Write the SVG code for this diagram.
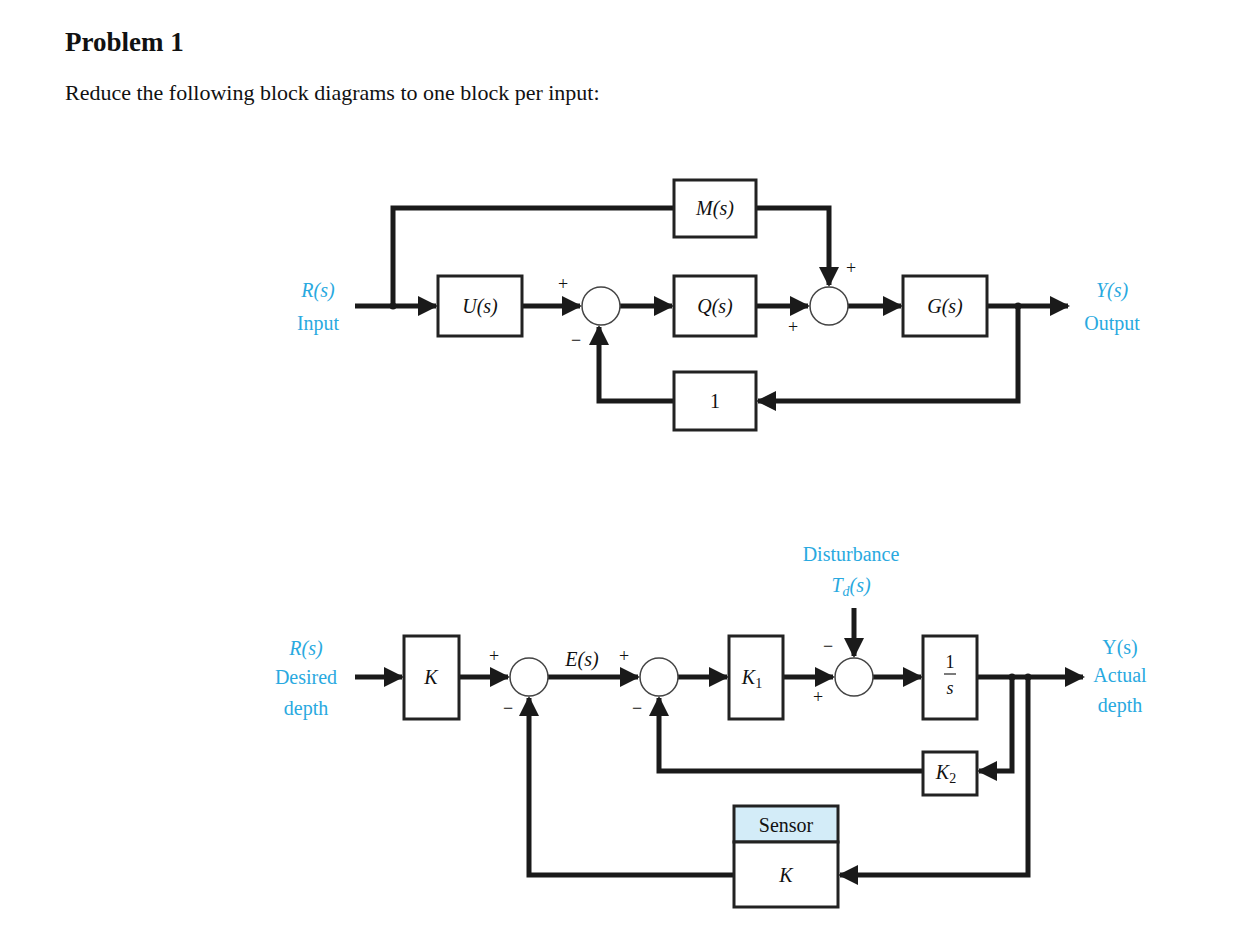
<svg xmlns="http://www.w3.org/2000/svg" width="1237" height="947" viewBox="0 0 1237 947">
<style>
text{font-family:"Liberation Serif","DejaVu Serif",serif;fill:#111}
.t{font-size:20px;text-anchor:middle}
.b{fill:#29a9e0;font-size:20px;text-anchor:middle}
.s{font-size:18px;text-anchor:middle}
.blk{fill:#fff;stroke:#222;stroke-width:3}
.sum{fill:#fff;stroke:#444;stroke-width:1.5}
.w{fill:none;stroke:#1a1a1a;stroke-width:5}
</style>
<defs>
<marker id="a" viewBox="0 0 10 10" refX="9" refY="5" markerWidth="4" markerHeight="4" orient="auto" markerUnits="strokeWidth"><path d="M0,0L10,5L0,10z" fill="#1a1a1a"/></marker>
</defs>
<rect width="1237" height="947" fill="#fff"/>
<text x="65" y="51" style="font-size:27px;font-weight:bold">Problem 1</text>
<text x="65" y="100" style="font-size:22px">Reduce the following block diagrams to one block per input:</text>

<g id="connectors">
<!-- top -->
<path class="w" d="M355,306H436" marker-end="url(#a)"/>
<path class="w" d="M393,306V208H674"/>
<path class="w" d="M756,208H829V285" marker-end="url(#a)"/>
<path class="w" d="M522,306H580" marker-end="url(#a)"/>
<path class="w" d="M620,306H672" marker-end="url(#a)"/>
<path class="w" d="M756,306H808" marker-end="url(#a)"/>
<path class="w" d="M848,306H901" marker-end="url(#a)"/>
<path class="w" d="M987,306H1068" marker-end="url(#a)"/>
<path class="w" d="M1018,306V401H758" marker-end="url(#a)"/>
<path class="w" d="M674,401H599V327" marker-end="url(#a)"/>
<circle cx="393" cy="306" r="3.5" fill="#1a1a1a"/>
<circle cx="1018" cy="306" r="3.5" fill="#1a1a1a"/>
<!-- bottom -->
<path class="w" d="M355,677H402" marker-end="url(#a)"/>
<path class="w" d="M459,677H508" marker-end="url(#a)"/>
<path class="w" d="M548,677H638" marker-end="url(#a)"/>
<path class="w" d="M678,677H727" marker-end="url(#a)"/>
<path class="w" d="M783,677H833" marker-end="url(#a)"/>
<path class="w" d="M873,677H921" marker-end="url(#a)"/>
<path class="w" d="M977,677H1083" marker-end="url(#a)"/>
<path class="w" d="M854,608V656" marker-end="url(#a)"/>
<path class="w" d="M1012,677V771H979" marker-end="url(#a)"/>
<path class="w" d="M923,771H659V698" marker-end="url(#a)"/>
<path class="w" d="M1028,677V875H840" marker-end="url(#a)"/>
<path class="w" d="M734,875H529V698" marker-end="url(#a)"/>
<circle cx="1012" cy="677" r="3.5" fill="#1a1a1a"/>
<circle cx="1028" cy="677" r="3.5" fill="#1a1a1a"/>
</g>

<g id="top-labels">
<text class="b" x="318" y="297" font-style="italic">R(s)</text>
<text class="b" x="318" y="330">Input</text>
<text class="b" x="1112" y="297" font-style="italic">Y(s)</text>
<text class="b" x="1112" y="330">Output</text>
<text class="s" x="563" y="290">+</text>
<text class="s" x="576" y="346">−</text>
<text class="s" x="851" y="274">+</text>
<text class="s" x="793" y="333">+</text>
</g>
<g id="M"><rect class="blk" x="674" y="180" width="82" height="57"/><text class="t" x="715" y="215" font-style="italic">M(s)</text></g>
<g id="U"><rect class="blk" x="438" y="276" width="84" height="60"/><text class="t" x="480" y="313" font-style="italic">U(s)</text></g>
<g id="sumA"><circle class="sum" cx="601" cy="306" r="19"/></g>
<g id="Q"><rect class="blk" x="674" y="276" width="82" height="60"/><text class="t" x="715" y="313" font-style="italic">Q(s)</text></g>
<g id="sumB"><circle class="sum" cx="829" cy="306" r="19"/></g>
<g id="G"><rect class="blk" x="903" y="276" width="84" height="60"/><text class="t" x="945" y="313" font-style="italic">G(s)</text></g>
<g id="one"><rect class="blk" x="674" y="372" width="82" height="58"/><text class="t" x="715" y="408">1</text></g>

<g id="bottom-labels">
<text class="b" x="306" y="655" font-style="italic">R(s)</text>
<text class="b" x="306" y="684">Desired</text>
<text class="b" x="306" y="715">depth</text>
<text class="b" x="1120" y="654">Y(s)</text>
<text class="b" x="1120" y="682">Actual</text>
<text class="b" x="1120" y="712">depth</text>
<text class="b" x="851" y="561">Disturbance</text>
<text class="b" x="851" y="592" font-style="italic">T<tspan font-size="14" dy="4">d</tspan><tspan dy="-4">(s)</tspan></text>
<text class="t" x="582" y="666" font-style="italic">E(s)</text>
<text class="s" x="494" y="662">+</text>
<text class="s" x="624" y="662">+</text>
<text class="s" x="508" y="714">−</text>
<text class="s" x="637" y="714">−</text>
<text class="s" x="828" y="652">−</text>
<text class="s" x="818" y="703">+</text>
</g>
<g id="Kin"><rect class="blk" x="404" y="636" width="55" height="83"/><text class="t" x="431" y="684" font-style="italic">K</text></g>
<g id="sum1"><circle class="sum" cx="529" cy="677" r="19"/></g>
<g id="sum2"><circle class="sum" cx="659" cy="677" r="19"/></g>
<g id="K1"><rect class="blk" x="729" y="636" width="54" height="83"/><text class="t" x="752" y="684" font-style="italic">K<tspan font-size="14" dy="4" font-style="normal">1</tspan></text></g>
<g id="sum3"><circle class="sum" cx="854" cy="677" r="19"/></g>
<g id="integ"><rect class="blk" x="923" y="636" width="54" height="83"/><text class="s" x="950" y="668" font-size="16">1</text><line x1="944" y1="674" x2="956" y2="674" stroke="#222" stroke-width="1.2"/><text class="s" x="950" y="694" font-style="italic">s</text></g>
<g id="K2"><rect class="blk" x="923" y="752" width="54" height="43"/><text class="t" x="946" y="779" font-style="italic">K<tspan font-size="14" dy="4" font-style="normal">2</tspan></text></g>
<g id="sensor"><rect x="734" y="806" width="104" height="36" fill="#d3ecf8" stroke="#222" stroke-width="3"/><rect class="blk" x="734" y="842" width="104" height="65"/><text class="t" x="786" y="832">Sensor</text><text class="t" x="786" y="882" font-style="italic">K</text></g>
</svg>
